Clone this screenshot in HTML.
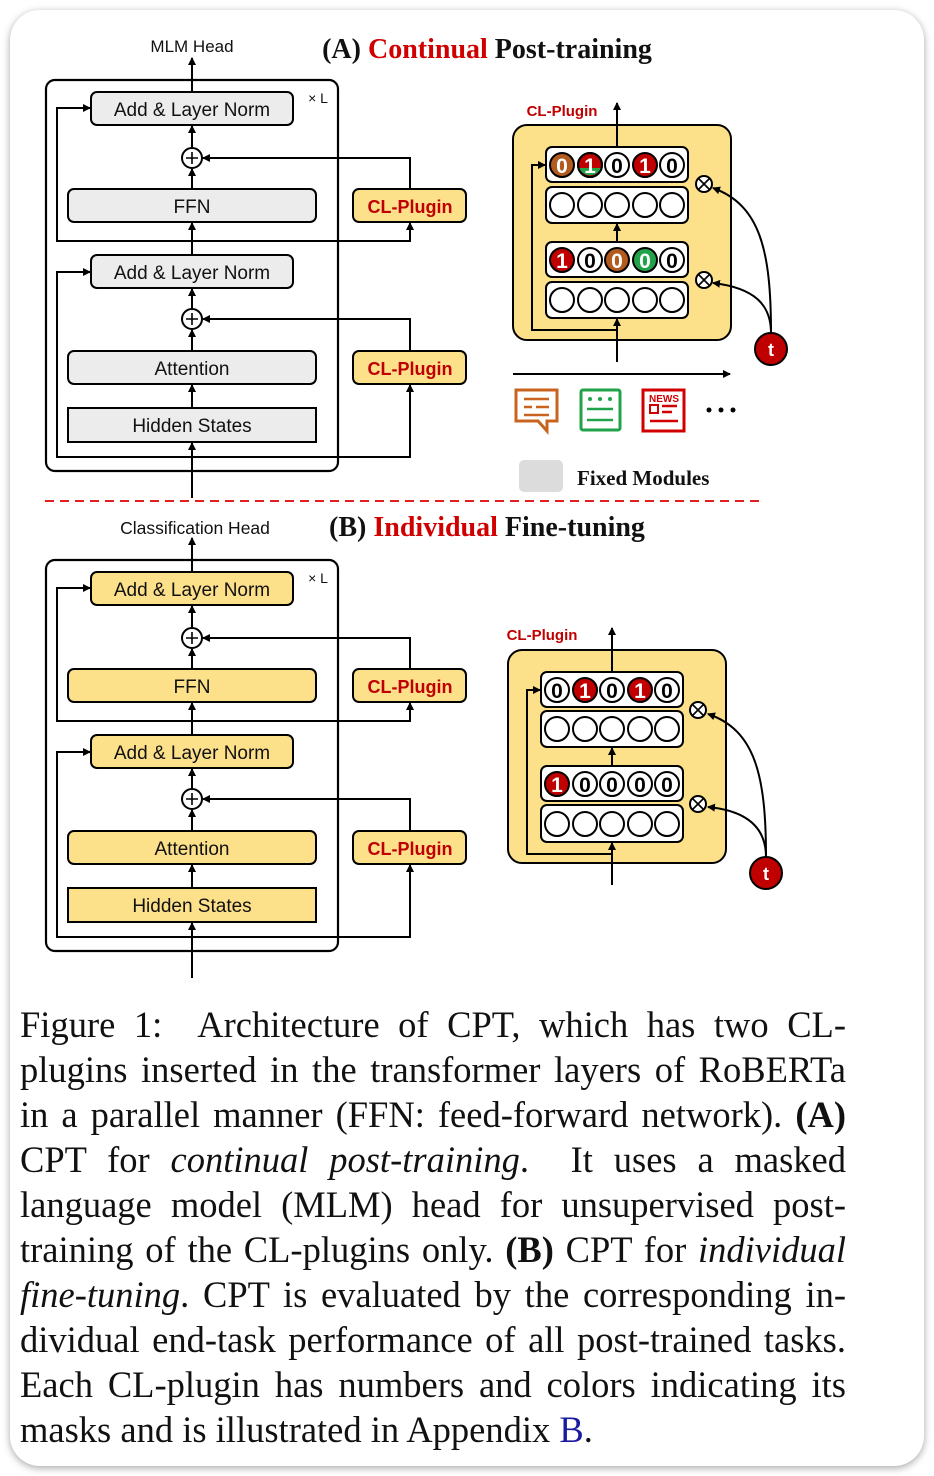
<!DOCTYPE html>
<html><head><meta charset="utf-8"><style>
html,body{margin:0;padding:0;background:#fff;}
body{width:934px;height:1476px;position:relative;overflow:hidden;font-family:"Liberation Sans",sans-serif;}
.card{position:absolute;left:10px;top:10px;width:914px;height:1456px;border-radius:30px;background:#fff;box-shadow:0 2px 8px rgba(0,0,0,0.35);}
svg{position:absolute;left:0;top:0;}
.cap{position:absolute;left:20px;top:1002px;width:826px;font-family:"Liberation Serif",serif;font-size:36.5px;line-height:45px;color:#111;}
.cap div{text-align:justify;text-align-last:justify;white-space:nowrap;}
.cap div.last{text-align-last:left;}
</style></head><body>
<div class="card"></div>
<svg width="934" height="1000" viewBox="0 0 934 1000" font-family="Liberation Sans, sans-serif">
<defs>
<marker id="ar" markerWidth="8" markerHeight="8" refX="7" refY="4" orient="auto" markerUnits="userSpaceOnUse">
<path d="M0,0 L8,4 L0,8 z" fill="#000"/></marker>
</defs>

<!-- ================= A ================= -->
<g stroke="#000" stroke-width="2.2" fill="none">
<rect x="46" y="80" width="292" height="391" rx="9"/>
</g>
<g stroke="#000" stroke-width="2" fill="none" marker-end="url(#ar)">
<path d="M192,498 L192,443"/>
<path d="M192,408 L192,385"/>
<path d="M192,351 L192,330"/>
<path d="M192,309 L192,289"/>
<path d="M192,255 L192,223"/>
<path d="M192,189 L192,169"/>
<path d="M192,148 L192,126"/>
<path d="M192,92 L192,58"/>
<path d="M192,457 L57,457 L57,272 L90,272"/>
<path d="M192,457 L410,457 L410,385"/>
<path d="M410,351 L410,319 L203,319"/>
<path d="M192,241 L57,241 L57,108 L90,108"/>
<path d="M192,241 L410,241 L410,223"/>
<path d="M410,189 L410,158 L203,158"/>
</g>
<g stroke="#000" stroke-width="2">
<rect x="91" y="92" width="202" height="33" rx="6" fill="#ececec"/>
<rect x="68" y="189" width="248" height="33" rx="6" fill="#ececec"/>
<rect x="91" y="255" width="202" height="33" rx="6" fill="#ececec"/>
<rect x="68" y="351" width="248" height="33" rx="6" fill="#ececec"/>
<rect x="68" y="408" width="248" height="34" fill="#ececec"/>
<rect x="353" y="189" width="113" height="33" rx="6" fill="#fde08a"/>
<rect x="353" y="351" width="113" height="33" rx="6" fill="#fde08a"/>
<circle cx="192" cy="158" r="10" fill="#fff"/>
<circle cx="192" cy="319" r="10" fill="#fff"/>
<path d="M186,158 h12 M192,152 v12 M186,319 h12 M192,313 v12" stroke-width="1.6"/>
</g>
<g font-size="19" text-anchor="middle" fill="#111">
<text x="192" y="116">Add &amp; Layer Norm</text>
<text x="192" y="213">FFN</text>
<text x="192" y="279">Add &amp; Layer Norm</text>
<text x="192" y="375">Attention</text>
<text x="192" y="432">Hidden States</text>
<text x="192" y="52" font-size="17">MLM Head</text>
<text x="318" y="103" font-size="14">× L</text>
</g>
<g font-size="18" font-weight="bold" text-anchor="middle" fill="#c00000">
<text x="410" y="213">CL-Plugin</text>
<text x="410" y="375">CL-Plugin</text>
</g>
<text x="487" y="58" text-anchor="middle" font-family="Liberation Serif, serif" font-size="28" font-weight="bold" fill="#111">(A) <tspan fill="#d00000">Continual</tspan> Post-training</text>

<!-- plugin detail A -->
<rect x="513" y="125" width="218" height="215" rx="14" fill="#fde08a" stroke="#000" stroke-width="2"/>
<g stroke="#000" stroke-width="2" fill="#fff">
<rect x="546" y="147" width="142" height="35" rx="6"/>
<rect x="546" y="187" width="142" height="36" rx="6"/>
<rect x="546" y="242" width="142" height="35" rx="6"/>
<rect x="546" y="282" width="142" height="36" rx="6"/>
</g>
<g stroke="#000" stroke-width="2" fill="#fff">
<circle cx="562" cy="165" r="12" fill="#b35a1f"/><circle cx="590" cy="165" r="12" fill="#c00000"/><circle cx="617" cy="165" r="12"/><circle cx="645" cy="165" r="12" fill="#c00000"/><circle cx="672" cy="165" r="12"/>
<circle cx="562" cy="205" r="12"/><circle cx="590" cy="205" r="12"/><circle cx="617" cy="205" r="12"/><circle cx="645" cy="205" r="12"/><circle cx="672" cy="205" r="12"/>
<circle cx="562" cy="260" r="12" fill="#c00000"/><circle cx="590" cy="260" r="12"/><circle cx="617" cy="260" r="12" fill="#b35a1f"/><circle cx="645" cy="260" r="12" fill="#21a34a"/><circle cx="672" cy="260" r="12"/>
<circle cx="562" cy="300" r="12"/><circle cx="590" cy="300" r="12"/><circle cx="617" cy="300" r="12"/><circle cx="645" cy="300" r="12"/><circle cx="672" cy="300" r="12"/>
</g>
<path d="M579,168 A12,12 0 0 0 601,168 z" fill="#21a34a"/>
<circle cx="590" cy="165" r="12" fill="none" stroke="#000" stroke-width="2"/>
<g font-size="21" font-weight="bold" text-anchor="middle">
<text x="562" y="173" fill="#fff">0</text><text x="590" y="173" fill="#fff">1</text><text x="617" y="173">0</text><text x="645" y="173" fill="#fff">1</text><text x="672" y="173">0</text>
<text x="562" y="268" fill="#fff">1</text><text x="590" y="268">0</text><text x="617" y="268" fill="#fff">0</text><text x="645" y="268" fill="#fff">0</text><text x="672" y="268">0</text>
</g>
<g stroke="#000" stroke-width="2" fill="none" marker-end="url(#ar)">
<path d="M617,147 L617,103"/>
<path d="M617,242 L617,224"/>
<path d="M617,362 L617,319"/>
<path d="M617,330 L532,330 L532,165 L545,165"/>
<path d="M771,333 C771,250 760,205 713,188"/>
<path d="M771,333 C771,305 755,288 713,283"/>
<path d="M513,374 L730,374"/>
</g>
<g stroke="#000" stroke-width="2" fill="#fff">
<circle cx="704" cy="184" r="8"/><circle cx="704" cy="280" r="8"/>
<path d="M698,178 l12,12 M710,178 l-12,12 M698,274 l12,12 M710,274 l-12,12" stroke-width="1.6"/>
<circle cx="771" cy="349" r="16" fill="#c00000"/>
</g>
<text x="771" y="356" text-anchor="middle" font-size="18" font-weight="bold" fill="#fff">t</text>
<text x="562" y="116" text-anchor="middle" font-size="15" font-weight="bold" fill="#c00000">CL-Plugin</text>
<!-- icons -->
<g fill="none" stroke-width="3">
<path d="M516,390 h41 v31 h-10 v10 l-9,-10 h-22 z" stroke="#c8641e"/>
<path d="M524,399 h25 M524,407 h8 M536,407 h13 M524,415 h25" stroke="#c8641e" stroke-width="2.5"/>
<rect x="581" y="390" width="39" height="40" rx="2" stroke="#21a34a"/>
<path d="M587,409 h26 M587,420 h26" stroke="#21a34a" stroke-width="2.5"/>
<rect x="643" y="390" width="41" height="41" stroke="#d00000"/>
<rect x="650" y="405" width="8" height="8" stroke="#d00000" stroke-width="2"/>
<path d="M662,406 h15 M662,412 h10 M650,421 h28" stroke="#d00000" stroke-width="2.5"/>
</g>
<g fill="#21a34a"><circle cx="590" cy="399" r="2"/><circle cx="600" cy="399" r="2"/><circle cx="610" cy="399" r="2"/></g>
<text x="664" y="402" text-anchor="middle" font-size="10" font-weight="bold" fill="#d00000">NEWS</text>
<g fill="#000"><circle cx="709" cy="410" r="2.5"/><circle cx="721" cy="410" r="2.5"/><circle cx="733" cy="410" r="2.5"/></g>
<rect x="519" y="460" width="44" height="32" rx="5" fill="#dcdcdc"/>
<text x="577" y="485" font-family="Liberation Serif, serif" font-size="21" font-weight="bold" fill="#111">Fixed Modules</text>

<line x1="45" y1="501" x2="762" y2="501" stroke="#e02020" stroke-width="2" stroke-dasharray="9,6"/>

<!-- ================= B ================= -->
<g transform="translate(0,480)">
<rect x="46" y="80" width="292" height="391" rx="9" stroke="#000" stroke-width="2.2" fill="none"/>
<g stroke="#000" stroke-width="2" fill="none" marker-end="url(#ar)">
<path d="M192,498 L192,443"/>
<path d="M192,408 L192,385"/>
<path d="M192,351 L192,330"/>
<path d="M192,309 L192,289"/>
<path d="M192,255 L192,223"/>
<path d="M192,189 L192,169"/>
<path d="M192,148 L192,126"/>
<path d="M192,92 L192,58"/>
<path d="M192,457 L57,457 L57,272 L90,272"/>
<path d="M192,457 L410,457 L410,385"/>
<path d="M410,351 L410,319 L203,319"/>
<path d="M192,241 L57,241 L57,108 L90,108"/>
<path d="M192,241 L410,241 L410,223"/>
<path d="M410,189 L410,158 L203,158"/>
</g>
<g stroke="#000" stroke-width="2" fill="#fde08a">
<rect x="91" y="92" width="202" height="33" rx="6"/>
<rect x="68" y="189" width="248" height="33" rx="6"/>
<rect x="91" y="255" width="202" height="33" rx="6"/>
<rect x="68" y="351" width="248" height="33" rx="6"/>
<rect x="68" y="408" width="248" height="34"/>
<rect x="353" y="189" width="113" height="33" rx="6"/>
<rect x="353" y="351" width="113" height="33" rx="6"/>
<circle cx="192" cy="158" r="10" fill="#fff"/>
<circle cx="192" cy="319" r="10" fill="#fff"/>
<path d="M186,158 h12 M192,152 v12 M186,319 h12 M192,313 v12" stroke-width="1.6"/>
</g>
<g font-size="19" text-anchor="middle" fill="#111">
<text x="192" y="116">Add &amp; Layer Norm</text>
<text x="192" y="213">FFN</text>
<text x="192" y="279">Add &amp; Layer Norm</text>
<text x="192" y="375">Attention</text>
<text x="192" y="432">Hidden States</text>
<text x="195" y="54" font-size="17.5">Classification Head</text>
<text x="318" y="103" font-size="14">× L</text>
</g>
<g font-size="18" font-weight="bold" text-anchor="middle" fill="#c00000">
<text x="410" y="213">CL-Plugin</text>
<text x="410" y="375">CL-Plugin</text>
</g>
<text x="487" y="56" text-anchor="middle" font-family="Liberation Serif, serif" font-size="28" font-weight="bold" fill="#111">(B) <tspan fill="#d00000">Individual</tspan> Fine-tuning</text>
</g>

<!-- plugin detail B -->
<g transform="translate(-5,525)">
<rect x="513" y="125" width="218" height="213" rx="14" fill="#fde08a" stroke="#000" stroke-width="2"/>
<g stroke="#000" stroke-width="2" fill="#fff">
<rect x="546" y="147" width="142" height="35" rx="6"/>
<rect x="546" y="186" width="142" height="36" rx="6"/>
<rect x="546" y="241" width="142" height="35" rx="6"/>
<rect x="546" y="280" width="142" height="37" rx="6"/>
</g>
<g stroke="#000" stroke-width="2" fill="#fff">
<circle cx="562" cy="165" r="12"/><circle cx="590" cy="165" r="12" fill="#c00000"/><circle cx="617" cy="165" r="12"/><circle cx="645" cy="165" r="12" fill="#c00000"/><circle cx="672" cy="165" r="12"/>
<circle cx="562" cy="204" r="12"/><circle cx="590" cy="204" r="12"/><circle cx="617" cy="204" r="12"/><circle cx="645" cy="204" r="12"/><circle cx="672" cy="204" r="12"/>
<circle cx="562" cy="259" r="12" fill="#c00000"/><circle cx="590" cy="259" r="12"/><circle cx="617" cy="259" r="12"/><circle cx="645" cy="259" r="12"/><circle cx="672" cy="259" r="12"/>
<circle cx="562" cy="299" r="12"/><circle cx="590" cy="299" r="12"/><circle cx="617" cy="299" r="12"/><circle cx="645" cy="299" r="12"/><circle cx="672" cy="299" r="12"/>
</g>
<g font-size="21" font-weight="bold" text-anchor="middle">
<text x="562" y="173">0</text><text x="590" y="173" fill="#fff">1</text><text x="617" y="173">0</text><text x="645" y="173" fill="#fff">1</text><text x="672" y="173">0</text>
<text x="562" y="267" fill="#fff">1</text><text x="590" y="267">0</text><text x="617" y="267">0</text><text x="645" y="267">0</text><text x="672" y="267">0</text>
</g>
<g stroke="#000" stroke-width="2" fill="none" marker-end="url(#ar)">
<path d="M617,147 L617,103"/>
<path d="M617,241 L617,223"/>
<path d="M617,360 L617,318"/>
<path d="M617,329 L532,329 L532,165 L545,165"/>
<path d="M771,332 C771,250 760,205 713,189"/>
<path d="M771,332 C771,305 755,286 713,282"/>
</g>
<g stroke="#000" stroke-width="2" fill="#fff">
<circle cx="703" cy="185" r="8"/><circle cx="703" cy="279" r="8"/>
<path d="M697,179 l12,12 M709,179 l-12,12 M697,273 l12,12 M709,273 l-12,12" stroke-width="1.6"/>
<circle cx="771" cy="348" r="16" fill="#c00000"/>
</g>
<text x="771" y="355" text-anchor="middle" font-size="18" font-weight="bold" fill="#fff">t</text>
<text x="547" y="115" text-anchor="middle" font-size="15" font-weight="bold" fill="#c00000">CL-Plugin</text>
</g>
</svg>

<div class="cap">
<div>Figure 1:&nbsp; Architecture of CPT, which has two CL-</div>
<div>plugins inserted in the transformer layers of RoBERTa</div>
<div>in a parallel manner (FFN: feed-forward network). <b>(A)</b></div>
<div>CPT for <i>continual post-training</i>.&nbsp; It uses a masked</div>
<div>language model (MLM) head for unsupervised post-</div>
<div>training of the CL-plugins only. <b>(B)</b> CPT for <i>individual</i></div>
<div><i>fine-tuning</i>. CPT is evaluated by the corresponding in-</div>
<div>dividual end-task performance of all post-trained tasks.</div>
<div>Each CL-plugin has numbers and colors indicating its</div>
<div class="last">masks and is illustrated in Appendix <span style="color:#1a1aa0">B</span>.</div>
</div>
</body></html>
